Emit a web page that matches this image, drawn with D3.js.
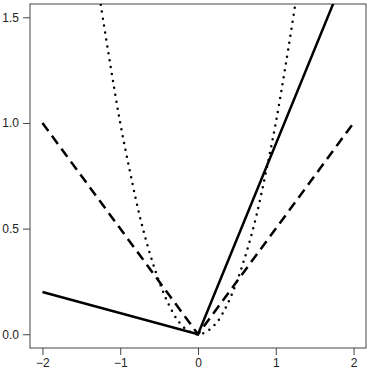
<!DOCTYPE html>
<html>
<head>
<meta charset="utf-8">
<script src="https://cdn.jsdelivr.net/npm/d3@7"></script>
<style>
  body { margin: 0; background: #fff; }
</style>
</head>
<body>
<div id="chart"></div>
<script>
// Data
const checkX = [-2, 0, 2];
const checkY90 = [0.2, 0, 1.8];      // solid, clipped at top
const checkY50 = [1.0, 0, 1.0];      // dashed
const sqX = [-1.3, -1.25, -1.125, -1, -0.875, -0.75, -0.625, -0.5, -0.375, -0.25, -0.125, 0,
             0.125, 0.25, 0.375, 0.5, 0.625, 0.75, 0.875, 1, 1.125, 1.25, 1.3];
const sqY = [1.69, 1.56, 1.27, 1.0, 0.77, 0.56, 0.39, 0.25, 0.14, 0.06, 0.016, 0,
             0.016, 0.06, 0.14, 0.25, 0.39, 0.56, 0.77, 1.0, 1.27, 1.56, 1.69];
const xTicks = [-2, -1, 0, 1, 2];
const yTicks = [0, 0.5, 1.0, 1.5];

const W = 368, H = 373;
const box = { left: 30, right: 366, top: 4, bottom: 348 };
const font = "'Liberation Sans', Arial, Helvetica, sans-serif";

const svg = d3.select("#chart")
    .append("svg")
    .attr("width", W)
    .attr("height", H);

const xScale = d3.scaleLinear().domain([-2.16, 2.16]).range([box.left, box.right]);
const yScale = d3.scaleLinear().domain([-0.065, 1.563]).range([box.bottom, box.top]);

svg.append("clipPath").attr("id", "clip")
    .append("rect")
    .attr("x", box.left).attr("y", box.top)
    .attr("width", box.right - box.left).attr("height", box.bottom - box.top);

// Axes
const xAxis = svg.append("g")
    .attr("transform", `translate(0,${box.bottom})`)
    .call(d3.axisBottom(xScale).tickValues(xTicks).tickSize(7).tickPadding(3)
        .tickFormat(d => d < 0 ? "\u2212" + Math.abs(d) : d));
xAxis.select(".domain").remove();

const yAxis = svg.append("g")
    .attr("transform", `translate(${box.left},0)`)
    .call(d3.axisLeft(yScale).tickValues(yTicks).tickSize(7).tickPadding(4)
        .tickFormat(d3.format(".1f")));
yAxis.select(".domain").remove();

svg.selectAll("g").attr("font-family", font).attr("font-size", 12);
svg.selectAll(".tick line").attr("stroke", "#444");
svg.selectAll(".tick text").attr("fill", "#222");

// Frame
svg.append("rect")
    .attr("x", box.left).attr("y", box.top)
    .attr("width", box.right - box.left).attr("height", box.bottom - box.top)
    .attr("fill", "none")
    .attr("stroke", "#444")
    .attr("stroke-width", 1);

const plot = svg.append("g").attr("clip-path", "url(#clip)");

const line = d3.line()
    .x(d => xScale(d[0]))
    .y(d => yScale(d[1]));

// Dashed: check loss tau = 0.5
plot.append("path")
    .datum(checkX.map((x, i) => [x, checkY50[i]]))
    .attr("fill", "none")
    .attr("stroke", "#000")
    .attr("stroke-width", 2.5)
    .attr("stroke-dasharray", "10,6")
    .attr("d", line);

// Dotted: squared loss
plot.append("path")
    .datum(sqX.map((x, i) => [x, sqY[i]]))
    .attr("fill", "none")
    .attr("stroke", "#000")
    .attr("stroke-width", 2.5)
    .attr("stroke-linecap", "round")
    .attr("stroke-dasharray", "0,7")
    .attr("d", line.curve(d3.curveCatmullRom));

// Solid: check loss tau = 0.9
plot.append("path")
    .datum(checkX.map((x, i) => [x, checkY90[i]]))
    .attr("fill", "none")
    .attr("stroke", "#000")
    .attr("stroke-width", 2.5)
    .attr("d", line.curve(d3.curveLinear));
</script>
</body>
</html>
